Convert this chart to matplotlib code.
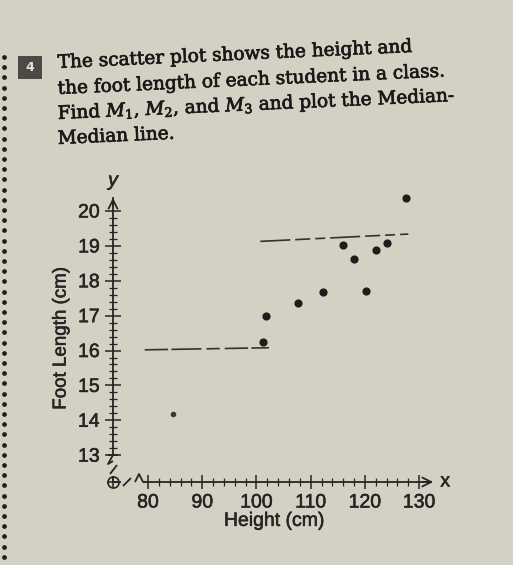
import matplotlib
matplotlib.use('Agg')
import matplotlib.pyplot as plt
import matplotlib.patheffects as pe
import numpy as np
from matplotlib.patches import Rectangle

# Scatter data: height (cm) vs foot length (cm)
heights = [101.2, 101.8, 107.7, 112.3, 116.0, 118.0, 120.2, 122.1, 124.1, 127.6]
foot_lengths = [16.25, 17.0, 17.35, 17.68, 19.04, 18.63, 17.71, 18.87, 19.09, 20.37]

# faint smudge near the lower left
smudge_x = [84.6]
smudge_y = [14.19]

# hand drawn pencil lines
lower_line_x = [79.4, 102.3]
lower_line_y = [16.02, 16.08]
upper_line_x = [100.7, 128.0]
upper_line_y = [19.13, 19.34]

x_ticks = [80, 90, 100, 110, 120, 130]
y_ticks = [13, 14, 15, 16, 17, 18, 19, 20]

question_lines = [
    "The scatter plot shows the height and",
    "the foot length of each student in a class.",
    r"Find $M_1$, $M_2$, and $M_3$ and plot the Median-",
    "Median line.",
]

BG = '#d5d0c4'
INK = '#262523'
thick = [pe.withStroke(linewidth=0.4, foreground=INK)]

W, H = 513, 565
fig = plt.figure(figsize=(W / 100, H / 100), dpi=100, facecolor=BG)
plt.rcParams['mathtext.fontset'] = 'dejavuserif'

# axes box in pixels: origin (113, 482), right end 436, top 195
ax_left, ax_bottom, ax_right, ax_top = 113, 482, 436, 195
ax = fig.add_axes([ax_left / W, 1 - ax_bottom / H,
                   (ax_right - ax_left) / W, (ax_bottom - ax_top) / H])
ax.set_facecolor('none')

x0, x1 = 73.54, 133.1
y0, y1 = 12.23, 20.46
ax.set_xlim(x0, x1)
ax.set_ylim(y0, y1)

px_x = (ax_right - ax_left) / (x1 - x0)
px_y = (ax_bottom - ax_top) / (y1 - y0)

def px(dx, dy):
    # pixel offsets from the origin -> data coords
    return x0 + dx / px_x, y0 + dy / px_y

for s in ['top', 'right']:
    ax.spines[s].set_visible(False)
ax.spines['bottom'].set_bounds(px(32, 0)[0], x1 - 1.0)
ax.spines['left'].set_bounds(13, y1 - 0.1)
for s in ['bottom', 'left']:
    ax.spines[s].set_color(INK)
    ax.spines[s].set_linewidth(1.3)

ax.set_xticks(x_ticks)
ax.set_yticks(y_ticks)
ax.set_xticks(np.arange(82, 132, 2), minor=True)
ax.set_yticks(np.arange(13, 20.01, 0.2), minor=True)
ax.tick_params(which='major', direction='inout', length=10, width=1.1, color=INK,
               labelsize=14, labelcolor=INK, pad=4)
ax.tick_params(which='minor', direction='inout', length=6, width=0.9, color=INK)
ax.tick_params(axis='y', which='major', length=11)
for lab in ax.get_xticklabels() + ax.get_yticklabels():
    lab.set_fontfamily('Liberation Sans')
    lab.set_path_effects(thick)

# axis arrows
ax.annotate('', xy=(x1, y0), xytext=(x1 - 3, y0), annotation_clip=False,
            arrowprops=dict(arrowstyle='->', lw=1.3, color=INK, mutation_scale=16))
ax.annotate('', xy=(x0, y1), xytext=(x0, y1 - 0.4), annotation_clip=False,
            arrowprops=dict(arrowstyle='->', lw=1.3, color=INK, mutation_scale=16))

# axis breaks and origin symbol
kw = dict(color=INK, lw=1.3, clip_on=False, solid_capstyle='butt')
ax.plot([x0, px(8, 0)[0]], [y0, y0], **kw)
ax.plot(*zip(px(10, -4), px(18, 4)), **kw)
ax.plot(*zip(px(22, 0), px(26, 8), px(30, 0), px(33, 0)), **kw)
ax.plot([x0, x0], [y0, px(0, 6)[1]], **kw)
ax.plot(*zip(px(-3, 8), px(4, 17)), **kw)
ax.plot(*zip(px(0, 27), px(-5, 18), px(0, 21)), **kw)
ax.plot(*zip(px(-5, 27), px(5, 27)), **kw)
ax.plot([x0], [y0], marker='o', ms=8, mfc='none', mec=INK, mew=1.2, clip_on=False)
ax.plot([x0], [y0], marker='+', ms=9, mec=INK, mew=1.1, clip_on=False)

# data points
ax.scatter(heights, foot_lengths, s=24, color='#1e1d1b', zorder=5, clip_on=False)
ax.scatter(smudge_x, smudge_y, s=9, color='#3a3936', zorder=5, clip_on=False)

# pencil dashed lines
ax.plot(lower_line_x, lower_line_y, color='#33322f', lw=1.2, dashes=(14, 2, 18, 3, 8, 3),
        clip_on=False)
ax.plot(upper_line_x, upper_line_y, color='#33322f', lw=1.2, dashes=(18, 3, 9, 3, 6, 3),
        clip_on=False)

ax.text(x1 + 0.8, y0, 'x', fontsize=14, color=INK, va='center', ha='left',
        family='Liberation Sans', path_effects=thick)
ax.text(x0, y1 + 0.15, 'y', fontsize=14, color=INK, style='italic', va='bottom',
        ha='center', family='Liberation Sans', path_effects=thick)

ax.set_xlabel('Height (cm)', fontsize=14, color=INK, family='Liberation Sans',
              labelpad=1, path_effects=thick)
ax.set_ylabel('Foot Length (cm)', fontsize=13.5, color=INK, family='Liberation Sans',
              labelpad=6, path_effects=thick)

# question text
baselines = [68, 94, 119, 144]
for line, yb in zip(question_lines, baselines):
    fig.text(58 / W, 1 - yb / H, line, fontsize=13.3, family='DejaVu Serif',
             color='#1a1917', ha='left', va='baseline', rotation=2.6,
             rotation_mode='anchor',
             path_effects=[pe.withStroke(linewidth=0.5, foreground='#1a1917')])

# number box
fig.patches.append(Rectangle((18 / W, 1 - 79 / H), 24 / W, 23 / H,
                             transform=fig.transFigure, facecolor='#4b4a47',
                             edgecolor='none'))
fig.text(30 / W, 1 - 67.5 / H, '4', fontsize=9, fontweight='bold', color='#e8e4da',
         ha='center', va='center', family='DejaVu Sans')

# dotted margin
dot_y = np.arange(57, 565, 10.2)
fig.add_artist(plt.Line2D(np.full(len(dot_y), 3.5 / W), 1 - dot_y / H, ls='none',
                          marker='o', ms=2.4, color='#1f1e1c',
                          transform=fig.transFigure))

fig.savefig('out.png', dpi=100, facecolor=BG)
